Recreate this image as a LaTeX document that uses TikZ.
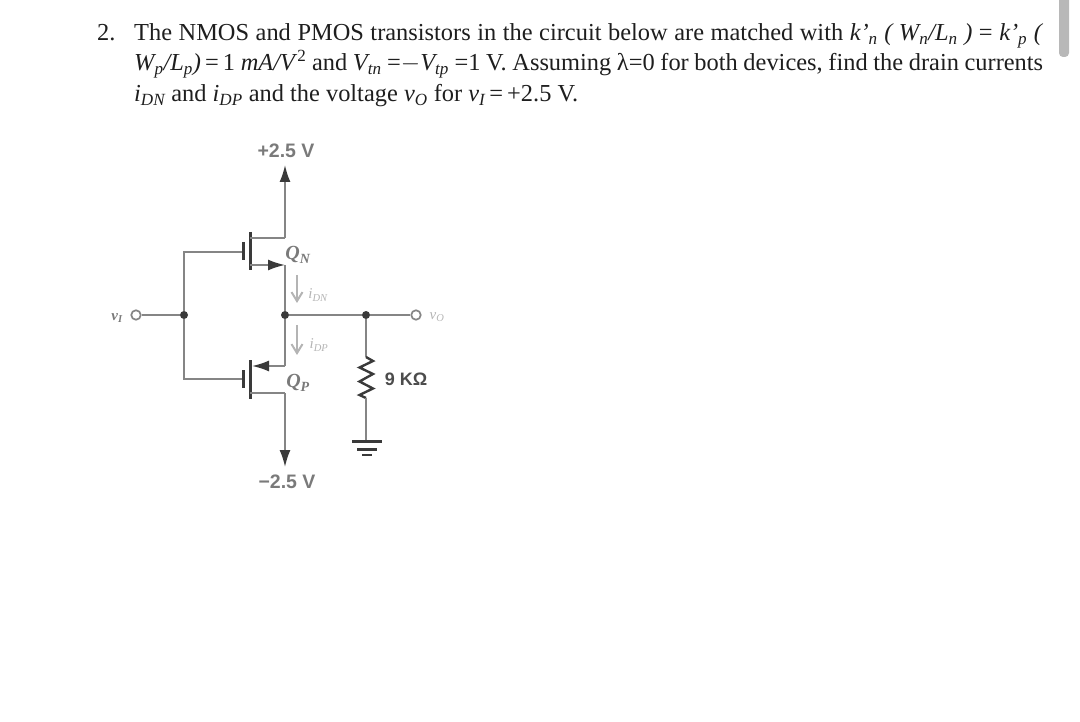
\documentclass[tikz,border=0pt]{standalone}
\usepackage{fontspec}
\setmainfont{Liberation Serif}
\newfontfamily\labelfont{Liberation Sans}
\usetikzlibrary{arrows.meta}
\definecolor{inkc}{HTML}{1E1E1E}
\definecolor{wirec}{HTML}{858585}
\definecolor{barc}{HTML}{3A3A3A}
\definecolor{labelc}{HTML}{7A7A7A}
\definecolor{faintc}{HTML}{B4B4B4}
\newcommand{\sbi}[1]{\textsubscript{\itshape #1}}
\tikzset{
  wire/.style={draw=wirec,line width=1.7pt},
  bar/.style={draw=barc,line width=3pt},
  feed/.style={wire,-{Latex[length=17pt,width=11pt,color=barc]}},
  flow/.style={draw=faintc,line width=2pt,-{Straight Barb[length=9pt,width=11pt]}},
  junction/.style={circle,fill=barc,inner sep=0pt,minimum size=8pt},
  terminal/.style={circle,draw=wirec,fill=white,line width=1.7pt,inner sep=0pt,minimum size=9.5pt},
  textline/.style={anchor=base west,inner sep=0pt,text=inkc,font=\fontsize{24.4}{28}\selectfont},
  railtext/.style={text=labelc,inner sep=0pt,font=\labelfont\bfseries\fontsize{19.5}{22}\selectfont},
  devtext/.style={text=labelc,inner sep=0pt,font=\itshape\bfseries\fontsize{20}{22}\selectfont},
  faint/.style={text=faintc,inner sep=0pt,font=\itshape\fontsize{15}{18}\selectfont}
}
\begin{document}
\begin{tikzpicture}[x=1pt,y=-1pt]
  \useasboundingbox (0,0) rectangle (1080,722);
  \fill [color=black!28,rounded corners=4pt] (1059,-10) rectangle (1069,57);

  \node [textline] (num) at (97,41) {2.};
  \node [textline] (lineone) at (134,41) {\makebox[909pt][s]{The NMOS and PMOS transistors in the circuit below are matched with \textit{k'}\sbi{n}\textit{ ( W\sbi{n}/L\sbi{n} )} = \textit{k'}\sbi{p}\textit{ (}}};
  \node [textline] (linetwo) at (134,71) {\makebox[909pt][s]{\textit{W\sbi{p}/L\sbi{p})}\,=\,1 \textit{mA/V}\textsuperscript{2} and \textit{V\sbi{tn}} =$-$\textit{V\sbi{tp}} =1 V. Assuming λ=0 for both devices, find the drain currents}};
  \node [textline] (linethree) at (134,102) {\makebox[444pt][s]{\textit{i\sbi{DN}} and \textit{i\sbi{DP}} and the voltage \textit{v\sbi{O}} for \textit{v\sbi{I}}\,=\,+2.5 V.}};

  \node [terminal] (vin) at (136,315) {};
  \node [junction] (jin) at (184,315) {};
  \node [junction] (jmid) at (285,315) {};
  \node [junction] (jout) at (366,315) {};
  \node [terminal] (vout) at (416,315) {};

  \coordinate (vdd) at (285,165);
  \coordinate (vss) at (285,467);
  \coordinate (ndrain) at (285,238);
  \coordinate (nsource) at (285,265);
  \coordinate (psource) at (285,366);
  \coordinate (pdrain) at (285,393);
  \coordinate (ngate) at (184,252);
  \coordinate (pgate) at (184,379);
  \coordinate (rtop) at (366,357);
  \coordinate (rbot) at (366,398);
  \coordinate (gnd) at (366,441);

  \draw [wire] (vin) -- (jin);
  \draw [wire] (jmid) -- (jout);
  \draw [wire] (jout) -- (vout);
  \draw [wire] (jin) -- (ngate) -- (243,252);
  \draw [wire] (jin) -- (pgate) -- (243,379);

  \draw [bar] (250,232) -- (250,270);
  \draw [bar] (243,242) -- (243,260);
  \draw [wire] (250,238) -- (ndrain);
  \draw [feed] (ndrain) -- (vdd);
  \draw [feed] (250,265) -- (nsource);
  \draw [wire] (nsource) -- (jmid);

  \draw [bar] (250,360) -- (250,399);
  \draw [bar] (243,370) -- (243,388);
  \draw [wire] (jmid) -- (psource);
  \draw [feed] (psource) -- (252,366);
  \draw [wire] (250,393) -- (pdrain);
  \draw [feed] (pdrain) -- (vss);

  \draw [wire] (jout) -- (rtop);
  \draw [bar,line width=2.4pt] (rtop) -- ++(7,4) -- ++(-13.5,6.5) -- ++(13.5,6.5) -- ++(-13.5,7.5) -- ++(13.5,7) -- ++(-13.5,6.5) -- (rbot);
  \draw [wire] (rbot) -- (gnd);
  \draw [bar] (352,441) -- (382,441);
  \draw [bar] (357,449) -- (377,449);
  \draw [bar,line width=2pt] (362,455) -- (372,455);

  \draw [flow] (297,275) -- (297,303);
  \draw [flow] (297,325) -- (297,355);

  \node [railtext] (vddlabel) at (286,151) {+2.5 V};
  \node [railtext] (vsslabel) at (287,482) {−2.5 V};
  \node [devtext] (qn) at (298,255) {Q\textsubscript{N}};
  \node [devtext] (qp) at (298,383) {Q\textsubscript{P}};
  \node [text=labelc,inner sep=0pt,font=\itshape\bfseries\fontsize{15}{18}\selectfont] (vilabel) at (117,318) {v\textsubscript{I}};
  \node [faint] (vo) at (437,317) {v\textsubscript{O}};
  \node [faint] (idn) at (318,295) {i\textsubscript{DN}};
  \node [faint] (idp) at (319,345) {i\textsubscript{DP}};
  \node [text=black!70,inner sep=0pt,font=\labelfont\bfseries\fontsize{18}{20}\selectfont] (rlabel) at (406,379) {9 KΩ};
\end{tikzpicture}
\end{document}
